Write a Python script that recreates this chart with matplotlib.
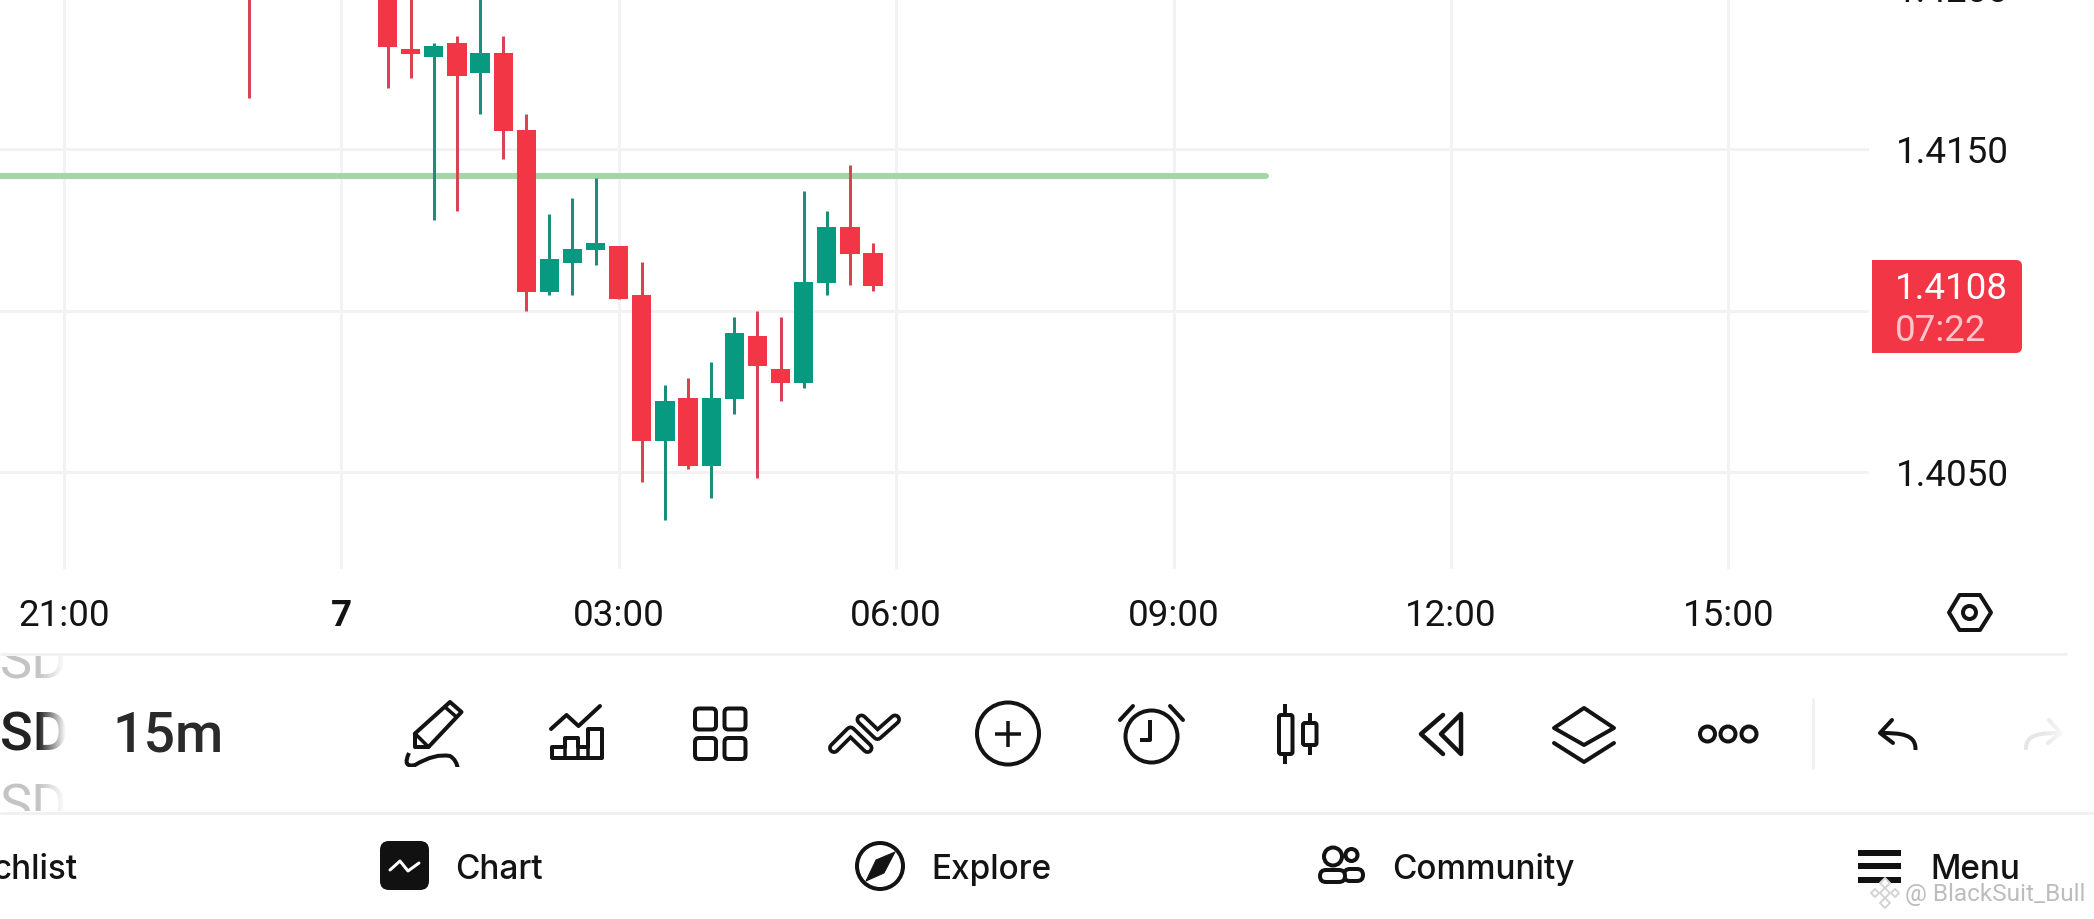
#!/usr/bin/env python3
import numpy as np
import matplotlib
matplotlib.use("Agg")
import matplotlib.pyplot as plt
from matplotlib.patches import Circle, FancyBboxPatch, Polygon, Rectangle, PathPatch
from matplotlib.path import Path

# Candle data, hours from midnight of the 7th
candle_hours = [-1.0, 0.5, 0.75, 1.0, 1.25, 1.5, 1.75, 2.0, 2.25, 2.5, 2.75, 3.0,
                3.25, 3.5, 3.75, 4.0, 4.25, 4.5, 4.75, 5.0, 5.25, 5.5, 5.75]
opens = [1.42250, 1.42050, 1.41811, 1.41787, 1.41830, 1.41737, 1.41799, 1.41560,
         1.41059, 1.41148, 1.41189, 1.41201, 1.41049, 1.40597, 1.40730, 1.40519,
         1.40727, 1.40922, 1.40820, 1.40777, 1.41086, 1.41260, 1.41179]
highs = [1.42350, 1.42150, 1.42050, 1.41830, 1.41852, 1.42000, 1.41852, 1.41610,
         1.41300, 1.41350, 1.41412, 1.41201, 1.41151, 1.40770, 1.40792, 1.40842,
         1.40981, 1.41000, 1.40981, 1.41371, 1.41310, 1.41452, 1.41210]
lows = [1.41660, 1.41691, 1.41722, 1.41282, 1.41310, 1.41610, 1.41471, 1.41000,
        1.41049, 1.41049, 1.41142, 1.41037, 1.40470, 1.40352, 1.40510, 1.40420,
        1.40681, 1.40482, 1.40721, 1.40761, 1.41049, 1.41080, 1.41062]
closes = [1.42050, 1.41818, 1.41796, 1.41821, 1.41728, 1.41799, 1.41557, 1.41059,
          1.41161, 1.41192, 1.41210, 1.41037, 1.40597, 1.40721, 1.40519, 1.40730,
          1.40932, 1.40829, 1.40777, 1.41090, 1.41260, 1.41176, 1.41077]

level_price = 1.41419
level_end = 10.0

x_ticks = [-3, 0, 3, 6, 9, 12, 15]
x_labels = ["21:00", "7", "03:00", "06:00", "09:00", "12:00", "15:00"]
y_ticks = [1.405, 1.410, 1.415, 1.420]
y_labels = ["1.4050", "1.4100", "1.4150", "1.4200"]
last_price = "1.4108"
countdown = "07:22"

RED = "#F23645"
GREEN = "#089981"
INK = "#131313"
W, H = 2094, 919
px = 72 / 100  # one pixel in points

plt.rcParams["font.family"] = ["Roboto", "DejaVu Sans"]
fig = plt.figure(figsize=(W / 100, H / 100), dpi=100, facecolor="white")

# Chart axes, its top runs past the canvas so the 1.4200 label gets cut off
top, bottom, right = -30, 569, 1869
ax = fig.add_axes([0, 1 - bottom / H, right / W, (bottom - top) / H])
xlim_left = -3.691
ax.set_xlim(xlim_left, 16.521)
ax.set_ylim(1.40200, 1.42056)
for s in ax.spines.values():
    s.set_visible(False)
ax.grid(True, color="#F2F2F2", linewidth=3 * px)
ax.set_axisbelow(True)
ax.set_xticks(x_ticks, x_labels)
ax.set_yticks(y_ticks, y_labels)
ax.yaxis.tick_right()
ax.tick_params(axis="x", length=0, pad=21, labelsize=26.5, labelcolor=INK)
ax.tick_params(axis="y", length=0, pad=19.4, labelsize=26.5, labelcolor=INK)
ax.get_xticklabels()[1].set_fontweight("bold")
ax.get_yticklabels()[1].set_visible(False)  # hidden behind the price tag

ax.plot([xlim_left, level_end], [level_price, level_price], color="#A5D6A7",
        linewidth=6 * px, solid_capstyle="round", zorder=2)

# Candles
up = [c > o for o, c in zip(opens, closes)]
body_low = [min(o, c) for o, c in zip(opens, closes)]
body_height = [abs(c - o) for o, c in zip(opens, closes)]
ax.vlines(candle_hours, lows, highs, colors=["#1B8E7B" if u else "#D94452" for u in up],
          linewidth=3 * px, zorder=3)
ax.bar(candle_hours, body_height, bottom=body_low, width=0.208,
       color=[GREEN if u else RED for u in up], linewidth=0, zorder=4)

# Everything else is app chrome, drawn in pixel coordinates
ui = fig.add_axes([0, 0, 1, 1], facecolor="none")
ui.set_xlim(0, W)
ui.set_ylim(H, 0)
ui.axis("off")


def line(points, color=INK, lw=4, cap="round", z=5):
    xs, ys = zip(*points)
    ui.plot(xs, ys, color=color, linewidth=lw * px, solid_capstyle=cap,
            solid_joinstyle="round", zorder=z)


def shape(points, fc="none", ec=INK, lw=4, z=5):
    ui.add_patch(Polygon(points, closed=True, facecolor=fc, edgecolor=ec,
                         linewidth=lw * px, joinstyle="round", zorder=z))


def ring(x, y, r, lw=4, ec=INK, fc="none", z=5):
    ui.add_patch(Circle((x, y), r, facecolor=fc, edgecolor=ec, linewidth=lw * px, zorder=z))


def box(x0, y0, x1, y1, r=4, lw=4, fc="none", ec=INK, z=5):
    ui.add_patch(FancyBboxPatch((x0 + r, y0 + r), x1 - x0 - 2 * r, y1 - y0 - 2 * r,
                                boxstyle=f"round,pad={r},rounding_size={r}",
                                facecolor=fc, edgecolor=ec, linewidth=lw * px, zorder=z))


def curve(points, color=INK, lw=4, clip=None):
    codes = [Path.MOVETO] + [Path.CURVE3] * (len(points) - 1)
    p = PathPatch(Path(points, codes), facecolor="none", edgecolor=color,
                  linewidth=lw * px, zorder=5)
    ui.add_patch(p)
    if clip is not None:
        p.set_clip_path(clip)


def fade(x0, x1, y0, y1):
    # white gradient over the right end of toolbar items
    grad = np.ones((1, 64, 4))
    grad[0, :, 3] = np.linspace(0, 1, 64)
    ui.imshow(grad, extent=(x0, x1, y1, y0), aspect="auto", zorder=8)


# Price tag
box(1872, 260, 2022, 353, r=6, lw=0, fc=RED, ec="none", z=3)
ui.add_patch(Rectangle((1872, 260), 40, 93, facecolor=RED, edgecolor="none", zorder=3))
ui.text(1895, 289, last_price, color="white", fontsize=26.5, va="center", ha="left", zorder=6)
ui.text(1895, 331, countdown, color="#FBC5CB", fontsize=26.5, va="center", ha="left", zorder=6)

# Settings hexagon
shape([(1949, 612.5), (1959.5, 595), (1980, 595), (1991, 612.5), (1980, 630), (1959.5, 630)])
ring(1969.5, 612.5, 6.5)

# Separators
line([(0, 654), (2067, 654)], color="#F1F1F1", lw=3, cap="butt", z=1)
line([(0, 813), (W, 813)], color="#F1F1F1", lw=3, cap="butt", z=1)
line([(1813, 698), (1813, 769)], color="#F1F1F1", lw=3, cap="butt", z=1)

# Symbol wheel
clip_rect = Rectangle((0, 656), 70, 155, transform=ui.transData)
ui.text(0, 736, "SD", fontsize=39, fontweight="medium", color="#222222", va="center", ha="left", zorder=6)
for y in (664, 808):
    t = ui.text(0, y, "SD", fontsize=39, color="#C4C4C4", va="center", ha="left", zorder=6, clip_on=True)
    t.set_clip_path(clip_rect)
fade(38, 66, 656, 811)
ui.text(112, 736, "15m", fontsize=40, fontweight="medium", color="#2A2A2A", va="center", ha="left", zorder=6)

# Pencil
shape([(450, 702), (461.5, 712), (428.5, 747), (415, 747), (415, 733.5)])
line([(415, 733.5), (428.5, 747)], lw=3.5)
line([(445, 707), (456.5, 717)], lw=3.5)
pencil_clip = Rectangle((400, 745), 70, 22, transform=ui.transData)
curve([(409, 753), (402, 768), (415, 765), (435, 753), (450, 756), (457, 760), (458, 770)], clip=pencil_clip)

# Indicators
line([(551, 729), (566.5, 715), (578.5, 726), (600, 706)])
shape([(552, 747), (565, 747), (565, 738), (578, 738), (578, 747), (588, 747), (588, 729),
       (602, 729), (602, 758), (552, 758)])
line([(565, 747), (565, 758)], lw=3.5)
line([(578, 747), (578, 758)], lw=3.5)
line([(588, 747), (588, 758)], lw=3.5)

# Layout squares
for x0 in (695, 724.5):
    for y0 in (708.5, 738):
        box(x0, y0, x0 + 21, y0 + 21, r=4)

# Double chevrons, a thick black stroke with a white core
for stroke in ([(834, 748), (850.5, 731.5), (867.5, 748)], [(861.5, 719.5), (877.5, 735), (895, 719.5)]):
    line(stroke, lw=12, z=5)
    line(stroke, color="white", lw=4.5, z=6)

# Plus
ring(1008, 733.5, 31)
line([(995, 733.5), (1021, 733.5)], lw=3.5, cap="butt")
line([(1008, 720.5), (1008, 746.5)], lw=3.5, cap="butt")

# Alarm
ring(1151.5, 736.5, 26)
line([(1150, 720), (1150, 740), (1140, 740)], cap="butt")
line([(1120, 720), (1133, 706)])
line([(1170, 706), (1183, 720)])

# Candle icon
line([(1285, 704), (1285, 764)], cap="butt")
box(1279, 715, 1292.5, 754, r=2, fc="white", z=6)
line([(1309.5, 713), (1309.5, 755)], cap="butt")
box(1303, 723, 1316.5, 745, r=2, fc="white", z=6)

# Rewind
shape([(1461, 714), (1441, 734), (1461, 754)], lw=4.5)
line([(1443, 715), (1421, 734), (1443, 754)], lw=4.5)

# Layers
shape([(1584, 708), (1614, 728), (1584, 745), (1554, 728)])
line([(1554, 743), (1584, 762), (1614, 743)])

# Dots
for x in (1707.5, 1728, 1749):
    ring(x, 734, 7.5)

# Undo, redo
undo = Path([(1915.5, 750), (1916, 734), (1901, 733), (1880, 733)],
            [Path.MOVETO, Path.CURVE4, Path.CURVE4, Path.CURVE4])
ui.add_patch(PathPatch(undo, facecolor="none", edgecolor=INK, linewidth=4 * px, zorder=5))
line([(1892, 720), (1880, 733), (1893, 743)])
redo = Path([(2026, 750), (2025, 734), (2040, 733), (2061, 733)],
            [Path.MOVETO, Path.CURVE4, Path.CURVE4, Path.CURVE4])
ui.add_patch(PathPatch(redo, facecolor="none", edgecolor="#E6E6E6", linewidth=4 * px, zorder=5))
line([(2049, 720), (2061, 733), (2048, 743)], color="#E6E6E6")
fade(2044, 2068, 712, 755)

# Bottom navigation
nav_font = ["Inter", "Roboto", "DejaVu Sans"]
for x, label, ha in [(78, "chlist", "right"), (455, "Chart", "left"), (931, "Explore", "left"),
                     (1392, "Community", "left"), (1930, "Menu", "left")]:
    ui.text(x, 870, label, fontsize=24, fontweight="medium", family=nav_font, color=INK,
            va="center", ha=ha, zorder=6)

# Chart tab icon
box(380, 841, 429, 890, r=9, lw=0, fc="#111111", ec="none")
line([(390, 870), (400, 861), (408, 871), (419, 863)], color="white", lw=3)

# Explore compass
ring(880, 866, 23)
shape([(895, 852), (884, 873), (866, 881), (876, 860)], fc=INK, lw=1)

# Community
ring(1333, 856.5, 9)
ring(1351.5, 855, 6)
box(1344, 869, 1363, 881, r=6, fc="white")
box(1320, 870, 1345, 882, r=6, fc="white", z=6)

# Menu bars
for y0 in (850, 863, 877):
    ui.add_patch(Rectangle((1858, y0), 43, 6, facecolor="#111111", edgecolor="none", zorder=5))

# Watermark
ui.text(1905, 894, "@ BlackSuit_Bull", fontsize=17.6, color="#BDBDBD", va="center", ha="left", zorder=7)
for cx, cy, r in [(1885, 893, 5), (1885, 883, 5), (1885, 903, 5), (1875, 893, 4), (1895, 893, 4)]:
    shape([(cx, cy - r), (cx + r, cy), (cx, cy + r), (cx - r, cy)], fc="white", ec="#D4D4D4", lw=2, z=7)

fig.savefig("out.png", dpi=100)
